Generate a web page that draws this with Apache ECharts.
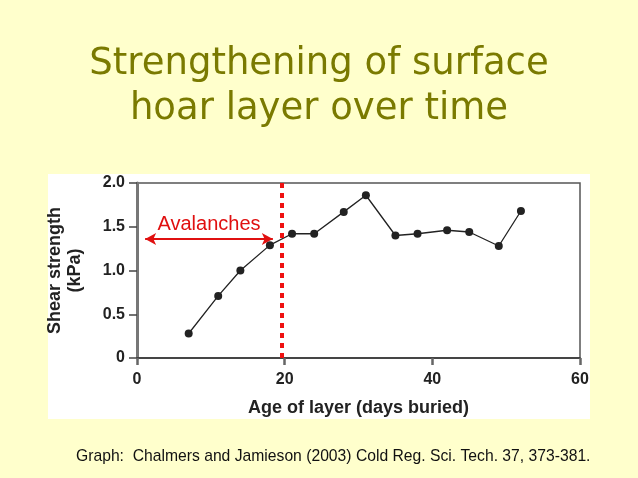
<!DOCTYPE html>
<html>
<head>
<meta charset="utf-8">
<script src="https://cdn.jsdelivr.net/npm/echarts@6/dist/echarts.min.js"></script>
<style>
  html, body { margin: 0; padding: 0; background: #ffffcc; }
  #chart { width: 638px; height: 478px; }
</style>
</head>
<body>
<div id="chart"></div>
<script>
// age of layer (days buried) and shear strength (kPa)
var ageDays = [7, 11, 14, 18, 21, 24, 28, 31, 35, 38, 42, 45, 49, 52];
var shearKPa = [0.28, 0.71, 1.0, 1.29, 1.42, 1.42, 1.67, 1.86, 1.40, 1.42, 1.46, 1.44, 1.28, 1.68];
var xTicks = [0, 20, 40, 60];
var yTicks = [0, 0.5, 1.0, 1.5, 2.0];
var avalancheLimit = 19.6;
var avalancheArrow = [1.1, 18.4];
var arrowLevel = 1.36;

var chart = echarts.init(document.getElementById('chart'));

var points = [];
for (var i = 0; i < ageDays.length; i++) {
  points.push([ageDays[i], shearKPa[i]]);
}

var font = '"Liberation Sans", Arial, sans-serif';

var option = {
  backgroundColor: '#ffffcc',
  animation: false,
  title: {
    text: 'Strengthening of surface\nhoar layer over time',
    left: 'center',
    top: 37,
    textStyle: {
      color: '#7a7a00',
      fontFamily: '"DejaVu Sans", sans-serif',
      fontWeight: 'normal',
      fontSize: 37,
      lineHeight: 45
    }
  },
  graphic: [
    {
      type: 'rect',
      z: -10,
      shape: { x: 48, y: 174, width: 542, height: 245 },
      style: { fill: '#ffffff' }
    },
    {
      type: 'text',
      left: 76,
      top: 449,
      style: {
        text: 'Graph:  Chalmers and Jamieson (2003) Cold Reg. Sci. Tech. 37, 373-381.',
        fill: '#111',
        font: '15.7px ' + font
      }
    }
  ],
  grid: {
    left: 137,
    right: 58,
    top: 183,
    bottom: 120,
    show: true,
    backgroundColor: 'transparent',
    borderColor: '#555',
    borderWidth: 1.5
  },
  xAxis: {
    type: 'value',
    min: xTicks[0],
    max: xTicks[xTicks.length - 1],
    interval: 20,
    name: 'Age of layer (days buried)',
    nameLocation: 'middle',
    nameGap: 41,
    nameTextStyle: { color: '#222', fontFamily: font, fontSize: 18, fontWeight: 'bold' },
    axisLine: { lineStyle: { color: '#333', width: 1.5 } },
    axisTick: { show: true, length: 7, lineStyle: { color: '#666', width: 2.5 } },
    axisLabel: { color: '#222', fontFamily: font, fontSize: 16, fontWeight: 'bold', margin: 14 },
    splitLine: { show: false }
  },
  yAxis: {
    type: 'value',
    min: yTicks[0],
    max: yTicks[yTicks.length - 1],
    interval: 0.5,
    name: 'Shear strength\n(kPa)',
    nameLocation: 'middle',
    nameGap: 52,
    nameTextStyle: { color: '#222', fontFamily: font, fontSize: 18, fontWeight: 'bold', lineHeight: 20 },
    axisLine: { lineStyle: { color: '#777', width: 3 } },
    axisTick: { show: true, length: 8, lineStyle: { color: '#444', width: 1.5 } },
    axisLabel: {
      color: '#222',
      fontFamily: font,
      fontSize: 16,
      fontWeight: 'bold',
      margin: 12,
      formatter: function (v) { return v === 0 ? '0' : v.toFixed(1); }
    },
    splitLine: { show: false }
  },
  series: [
    {
      type: 'line',
      data: points,
      symbol: 'circle',
      symbolSize: 8,
      itemStyle: { color: '#222' },
      lineStyle: { color: '#222', width: 1.3 },
      markLine: {
        silent: true,
        symbol: 'none',
        z: 5,
        label: { show: false },
        data: [
          {
            xAxis: avalancheLimit,
            lineStyle: { color: '#ee1111', width: 4, type: [5, 5] }
          },
          [
            {
              coord: [avalancheArrow[0], arrowLevel],
              symbol: 'arrow',
              symbolSize: [9, 11],
              lineStyle: { color: '#e01010', width: 2, type: 'solid' },
              label: {
                show: true,
                formatter: 'Avalanches',
                position: 'insideMiddleTop',
                distance: 5,
                color: '#e01010',
                fontFamily: font,
                fontSize: 20
              }
            },
            {
              coord: [avalancheArrow[1], arrowLevel],
              symbol: 'arrow',
              symbolSize: [9, 11]
            }
          ]
        ]
      }
    }
  ]
};

chart.setOption(option);
</script>
</body>
</html>
